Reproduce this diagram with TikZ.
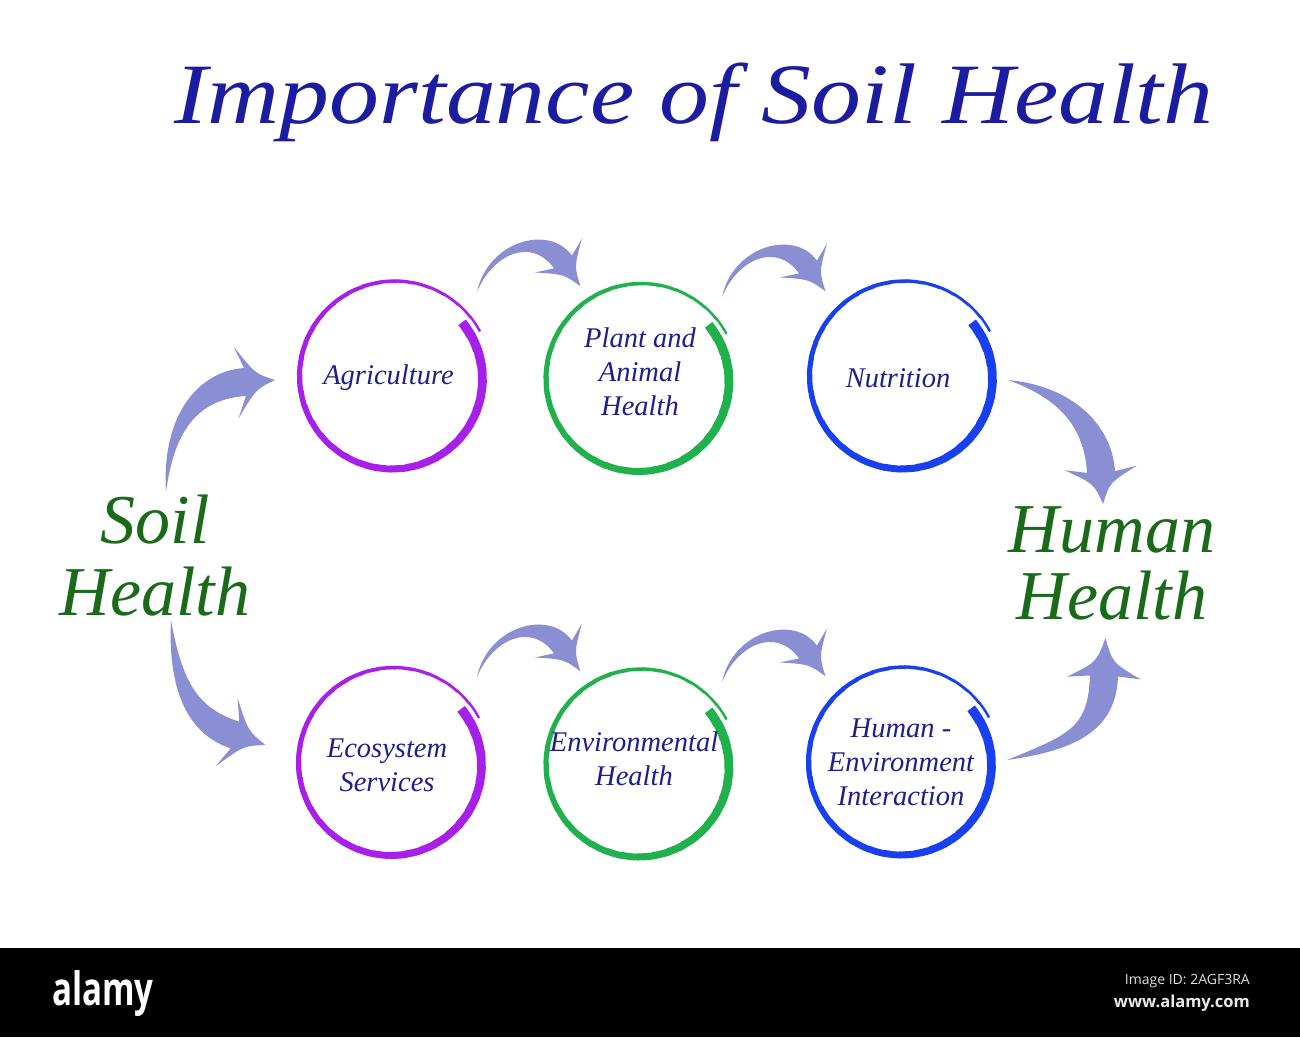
\documentclass[tikz,border=0pt]{standalone}
\usepackage{fontspec}
\setmainfont{Liberation Serif}
\newfontfamily\wmfont{Open Sans}
\usetikzlibrary{calc}

\definecolor{titleblue}{HTML}{1C1CA0}
\definecolor{textnavy}{HTML}{1E1E8C}
\definecolor{soilgreen}{HTML}{1A6A1A}
\definecolor{ringpurple}{HTML}{A620EA}
\definecolor{ringgreen}{HTML}{20B04C}
\definecolor{ringblue}{HTML}{1840F0}
\definecolor{arrowfill}{HTML}{8A8ED2}

\tikzset{
  ctext/.style={text=textnavy, font=\fontsize{28.5}{34}\selectfont\itshape, align=center, inner sep=0pt},
  bigtext/.style={text=soilgreen, font=\fontsize{70}{72}\selectfont\itshape, align=center, inner sep=0pt},
  titletext/.style={text=titleblue, font=\fontsize{86}{100}\selectfont\itshape, inner sep=0pt, anchor=base},
}

% spiral brush ring around a named coordinate
\newcommand{\soilring}[2]{%
  \foreach \i in {0,...,36}{%
    \pgfmathsetmacro{\ra}{-28-10*\i}%
    \pgfmathsetmacro{\rr}{98-10*\i/36}%
    \pgfmathsetmacro{\rw}{2.4+7*\i/36}%
    \draw[#2, line width=\rw pt] ($(#1)+(\ra:\rr)$) arc[start angle=\ra, end angle=\ra-10.8, radius=\rr];
  }%
}

% tapered curved arrow: tail, c1, c2, base, half body, half head, tip length, sweep, c1 offset
\newcommand{\fatarrow}[9]{%
  \fill[arrowfill]
    (#1) .. controls ($(#2)!#9!-90:(#3)$) and ($(#3)!#5!-90:(#4)$) .. ($(#4)!#5!90:(#3)$)
    -- ($($(#4)!#8!(#3)$)!#6!90:(#3)$)
    .. controls ($($(#4)!-0.35*#7!(#3)$)!0.22*#6!90:(#3)$) .. ($(#4)!-#7!(#3)$)
    .. controls ($($(#4)!-0.35*#7!(#3)$)!0.22*#6!-90:(#3)$) .. ($($(#4)!#8!(#3)$)!#6!-90:(#3)$)
    -- ($(#4)!#5!-90:(#3)$)
    .. controls ($(#3)!#5!90:(#4)$) and ($(#2)!#9!90:(#3)$) .. (#1) -- cycle;
}

\begin{document}
\begin{tikzpicture}[x=1pt,y=-1pt]
\fill[white] (0,0) rectangle (1300,1037);
\useasboundingbox (0,0) rectangle (1300,1037);

% title
\node[titletext] (title) at (694,123) {\scalebox{1.16}[1]{Importance of Soil Health}};

% ring centres
\coordinate (agriC) at (393.5,377.5);
\coordinate (plantC) at (640,380);
\coordinate (nutriC) at (903.5,377.5);
\coordinate (ecoC) at (392.5,764);
\coordinate (envC) at (640,765.5);
\coordinate (humC) at (902.5,763.5);

\soilring{agriC}{ringpurple}
\soilring{plantC}{ringgreen}
\soilring{nutriC}{ringblue}
\soilring{ecoC}{ringpurple}
\soilring{envC}{ringgreen}
\soilring{humC}{ringblue}

% labels
\node[ctext] (agri) at (388.5,377.5) {Agriculture};
\node[ctext] (plant) at (640,372) {Plant and\\Animal\\Health};
\node[ctext] (nutri) at (898,378.5) {Nutrition};
\node[ctext] (eco) at (387,765.5) {Ecosystem\\Services};
\node[ctext] (env) at (634,759) {Environmental\\Health};
\node[ctext] (hum) at (901,762) {Human -\\Environment\\Interaction};

\node[bigtext] (soil) at (155,556) {Soil\\Health};
\node[bigtext, font=\fontsize{70}{67}\selectfont\itshape] (human) at (1112,563) {Human\\Health};

% arrows
\fatarrow{166,492}{168,420}{200,385}{245,382}{14pt}{36pt}{30pt}{9pt}{9pt}
\fatarrow{171,620}{175,690}{195,722}{235,735}{14pt}{36pt}{32pt}{9pt}{9pt}
\fatarrow{477,292}{490,248}{540,230}{563,262}{11pt}{29pt}{30pt}{8pt}{7pt}
\fatarrow{722,297}{735,253}{785,235}{808,267}{11pt}{29pt}{30pt}{8pt}{7pt}
\fatarrow{477,677}{490,633}{540,615}{563,647}{11pt}{29pt}{30pt}{8pt}{7pt}
\fatarrow{722,682}{735,638}{785,620}{808,652}{11pt}{29pt}{30pt}{8pt}{7pt}
\fatarrow{1008,380}{1065,392}{1098,425}{1101,472}{14pt}{36pt}{32pt}{4pt}{9pt}
\fatarrow{1007,760}{1075,742}{1102,728}{1104,676}{14pt}{37pt}{38pt}{2pt}{9pt}

% footer bar
\fill[black] (0,948) rectangle (1300,1037);
\node[anchor=base west, inner sep=0pt, text=white, font=\wmfont\bfseries\fontsize{46}{50}\selectfont] (alamy) at (52,1005) {\scalebox{0.72}[1]{alamy}};
\node[anchor=base east, inner sep=0pt, text=white!88!black, font=\wmfont\fontsize{14}{16}\selectfont] (imgid) at (1250,984) {Image ID: 2AGF3RA};
\node[anchor=base east, inner sep=0pt, text=white!92!black, font=\wmfont\bfseries\fontsize{16.5}{18}\selectfont] (www) at (1250,1007) {www.alamy.com};
\end{tikzpicture}
\end{document}
